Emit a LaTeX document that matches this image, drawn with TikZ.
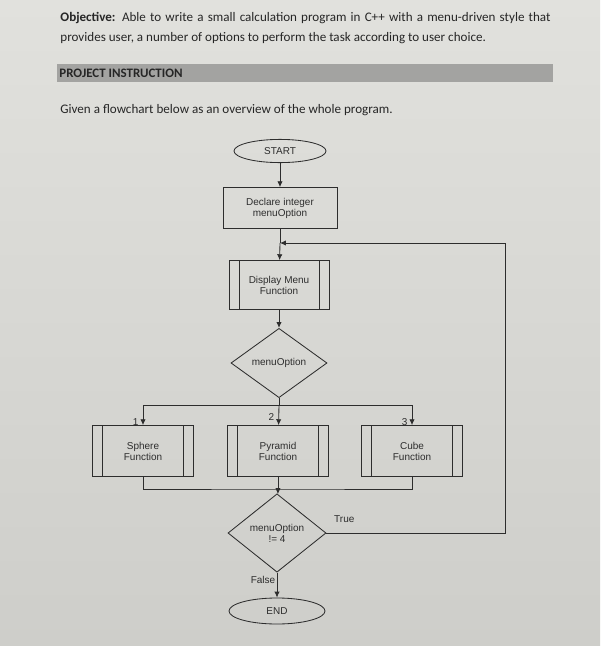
\documentclass[tikz,border=0pt]{standalone}
\usepackage{fontspec}
\setmainfont{Carlito}
\newfontfamily\chartfont{Liberation Sans}
\usetikzlibrary{arrows.meta,shapes.geometric}
\definecolor{papertop}{RGB}{225,225,221}
\definecolor{paperbot}{RGB}{206,206,202}
\definecolor{barcol}{RGB}{163,163,161}
\definecolor{ink}{RGB}{45,45,45}

\begin{document}
\begin{tikzpicture}[x=0.025cm,y=-0.025cm,->,>={Latex[length=4.2pt,width=3.8pt]},line width=0.6pt,draw=ink,text=ink]
  \tikzstyle{every node}=[font=\chartfont\fontsize{7.1}{7.9}\selectfont,align=center,inner sep=1pt]
  \tikzstyle{terminal}=[ellipse,draw,minimum width=2.3cm,minimum height=0.58cm]
  \tikzstyle{process}=[rectangle,draw,minimum width=2.85cm,minimum height=1.02cm]
  \tikzstyle{subproc}=[rectangle,draw,minimum width=2.52cm,minimum height=1.27cm]
  \tikzstyle{decision}=[diamond,draw,minimum width=2.4cm,minimum height=1.45cm]
  \tikzstyle{doctext}=[font=\fontsize{9.3}{12}\selectfont,anchor=west,inner sep=0pt,text=black!85]

  % page
  \shade[top color=papertop,bottom color=paperbot,draw=none] (0,0) rectangle (600,646);
  \fill[barcol,draw=none] (57,64) rectangle (553,82);

  \node[doctext,anchor=north west,text width=12.25cm,align=justify,
        font=\fontsize{9.3}{14.2}\selectfont] (obj) at (60,12)
    {\textbf{Objective:} Able to write a small calculation program in C++ with a menu-driven style that\linebreak
     provides user, a number of options to perform the task according to user choice.};
  \node[doctext,font=\bfseries\fontsize{9.2}{11}\selectfont] (proj) at (59,73.5) {PROJECT INSTRUCTION};
  \node[doctext] (given) at (60,110) {Given a flowchart below as an overview of the whole program.};

  % flowchart
  \node[terminal] (start) at (280,151) {START};
  \node[process]  (decl)  at (280,208) {Declare integer\\menuOption};
  \node[subproc,minimum width=2.5cm,minimum height=1.22cm] (menu) at (279,285) {Display Menu\\Function};
  \node[decision] (opt)   at (279,363) {menuOption};
  \node[subproc]  (sph)   at (143,451) {Sphere\\Function};
  \node[subproc]  (pyr)   at (278,451) {Pyramid\\Function};
  \node[subproc]  (cub)   at (412,451) {Cube\\Function};
  \node[decision,minimum width=2.45cm,minimum height=1.5cm] (chk) at (277,533) {menuOption\\!= 4};
  \node[terminal,minimum width=2.4cm,minimum height=0.65cm] (stop) at (277,611) {END};

  % side bars of the sub-process boxes
  \foreach \b in {menu,sph,pyr,cub}
    \draw[-] ([xshift=0.26cm]\b.north west) -- ([xshift=0.26cm]\b.south west)
             ([xshift=-0.26cm]\b.north east) -- ([xshift=-0.26cm]\b.south east);

  \coordinate (join) at (280,243);
  \coordinate (split) at (279,405);
  \coordinate (merge) at (278,489);
  \coordinate (loopr) at (505,533);
  \coordinate (loopt) at (505,243);

  \draw (start) -- (decl);
  \draw[-] (decl) -- (join);
  \draw (join) -- (menu);
  \draw (menu) -- (opt);
  \draw[-] (opt) -- (split);
  \draw (split) -| node[pos=0.93,left,xshift=-2pt] {1} (sph);
  \draw (split) -- node[pos=0.6,left,xshift=-2pt] {2} (pyr);
  \draw (split) -| node[pos=0.93,left,xshift=-2pt] {3} (cub);
  \draw[-] (sph) |- (merge) -| (cub);
  \draw[-] (pyr) -- (merge);
  \draw (merge) -- (chk);
  \draw[-] (chk.east) -- node[above,pos=0.1,yshift=6pt] {True} (loopr) -- (loopt);
  \draw (loopt) -- (join);
  \draw (chk) -- node[left,pos=0.3] {False} (stop);
\end{tikzpicture}
\end{document}
